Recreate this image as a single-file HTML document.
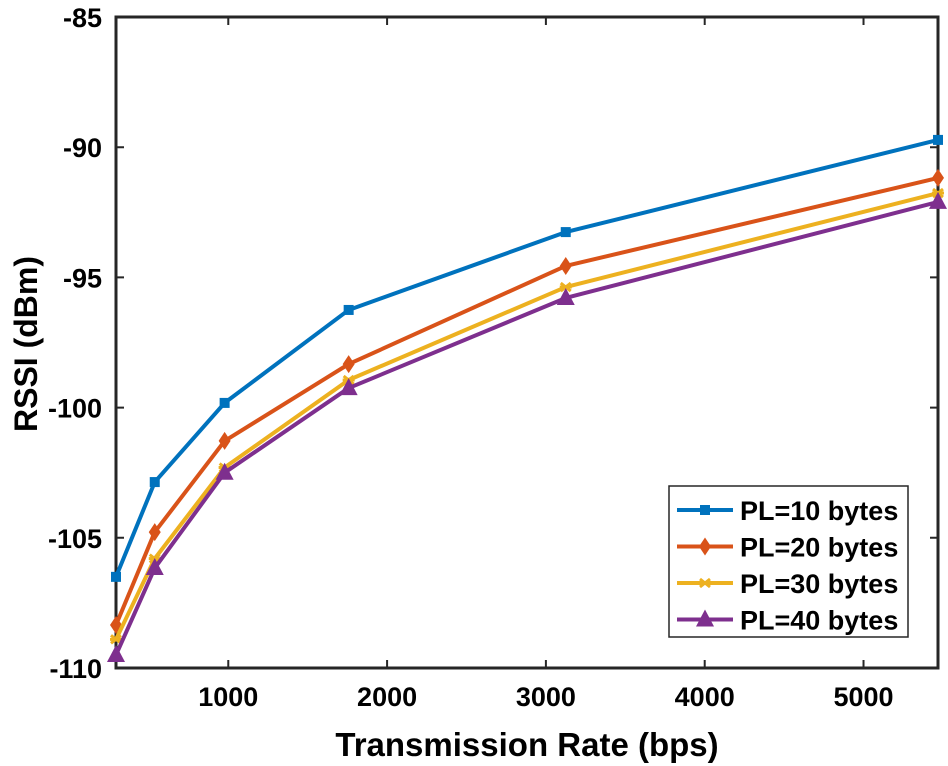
<!DOCTYPE html>
<html><head><meta charset="utf-8"><style>
body{margin:0;background:#fff;}
svg{display:block;font-family:"Liberation Sans",Arial,sans-serif;font-weight:bold;}
</style></head><body>
<svg id="chart" width="948" height="766" viewBox="0 0 948 766">
<g id="plot"></g>
</svg>
<script>
const rates = [293, 537, 977, 1758, 3125, 5469];
const pl10 = [-106.5, -102.86, -99.82, -96.25, -93.26, -89.72];
const pl20 = [-108.35, -104.78, -101.28, -98.33, -94.56, -91.18];
const pl30 = [-108.9, -105.8, -102.3, -98.94, -95.37, -91.76];
const pl40 = [-109.5, -106.16, -102.5, -99.25, -95.79, -92.1];
const xTicks = [1000, 2000, 3000, 4000, 5000];
const yTicks = [-85, -90, -95, -100, -105, -110];
const seriesNames = ["PL=10 bytes", "PL=20 bytes", "PL=30 bytes", "PL=40 bytes"];

const NS = "http://www.w3.org/2000/svg";
const L = 116, R = 938, T = 17, B = 668;
const xMin = 293, xMax = 5469, yMin = -110, yMax = -85;
function sx(v){ return L + (v - xMin) / (xMax - xMin) * (R - L); }
function sy(v){ return B - (v - yMin) / (yMax - yMin) * (B - T); }
const g = document.getElementById('plot');
function mk(tag, attrs){ const e = document.createElementNS(NS, tag); for (const k in attrs) e.setAttribute(k, attrs[k]); g.appendChild(e); return e; }

const frame = mk('rect', {x:L, y:T, width:R-L, height:B-T, fill:'none', stroke:'#262626', 'stroke-width':3});



xTicks.forEach(t => {
  const x = sx(t);
  const tk = mk('path', {d:`M${x},${B}V${B-8}M${x},${T}V${T+8}`, stroke:'#262626', 'stroke-width':2});
  
  
  const tx = mk('text', {x:x, y:B+38, 'text-anchor':'middle', 'font-size':27, fill:'#000'});
  tx.textContent = t;
  
  
});
yTicks.forEach(t => {
  const y = sy(t);
  const tk = mk('path', {d:`M${L},${y}H${L+8}M${R},${y}H${R-8}`, stroke:'#262626', 'stroke-width':2});
  
  
  const tx = mk('text', {x:L-14, y:y+10, 'text-anchor':'end', 'font-size':27, fill:'#000'});
  tx.textContent = t;
  
  
});

const xl = mk('text', {x:527, y:756, 'text-anchor':'middle', 'font-size':33, fill:'#000'});
xl.textContent = 'Transmission Rate (bps)';


const yl = mk('text', {x:0, y:0, 'text-anchor':'middle', 'font-size':32, fill:'#000', transform:'translate(37,344) rotate(-90)'});
yl.textContent = 'RSSI (dBm)';



const colors = ['#0072BD', '#D95319', '#EDB120', '#7E2F8E'];
const allSeries = [pl10, pl20, pl30, pl40];
function marker(kind, x, y, c){
  if (kind === 0) return mk('rect', {x:x-5, y:y-5, width:10, height:10, fill:c});
  if (kind === 1) return mk('path', {d:`M${x},${y-9}L${x+6},${y}L${x},${y+9}L${x-6},${y}Z`, fill:c});
  if (kind === 2) return mk('path', {d:`M${x-5},${y-4}L${x+5},${y+4}M${x-5},${y+4}L${x+5},${y-4}M${x-6},${y}H${x+6}`, stroke:c, 'stroke-width':3});
  return mk('path', {d:`M${x},${y-10}L${x+9},${y+7}L${x-9},${y+7}Z`, fill:c});
}
allSeries.forEach((s, i) => {
  const d = s.map((v, j) => (j ? 'L' : 'M') + sx(rates[j]) + ',' + sy(v)).join('');
  const ln = mk('path', {d:d, fill:'none', stroke:colors[i], 'stroke-width':4, 'stroke-linejoin':'round'});
  
  
  s.forEach((v, j) => {
    const m = marker(i, sx(rates[j]), sy(v), colors[i]);
    
    
  });
});

const lb = mk('rect', {x:669, y:486, width:239, height:151, fill:'#fff', stroke:'#262626', 'stroke-width':1.5});


seriesNames.forEach((n, i) => {
  const y = 510 + i * 36.5;
  const ln = mk('path', {d:`M677,${y}H733`, stroke:colors[i], 'stroke-width':4});
  
  
  const m = marker(i, 705, y, colors[i]);
  
  
  const t = mk('text', {x:740, y:y+10, 'font-size':27, fill:'#000'});
  t.textContent = n;
  
  
});
</script>
</body></html>
